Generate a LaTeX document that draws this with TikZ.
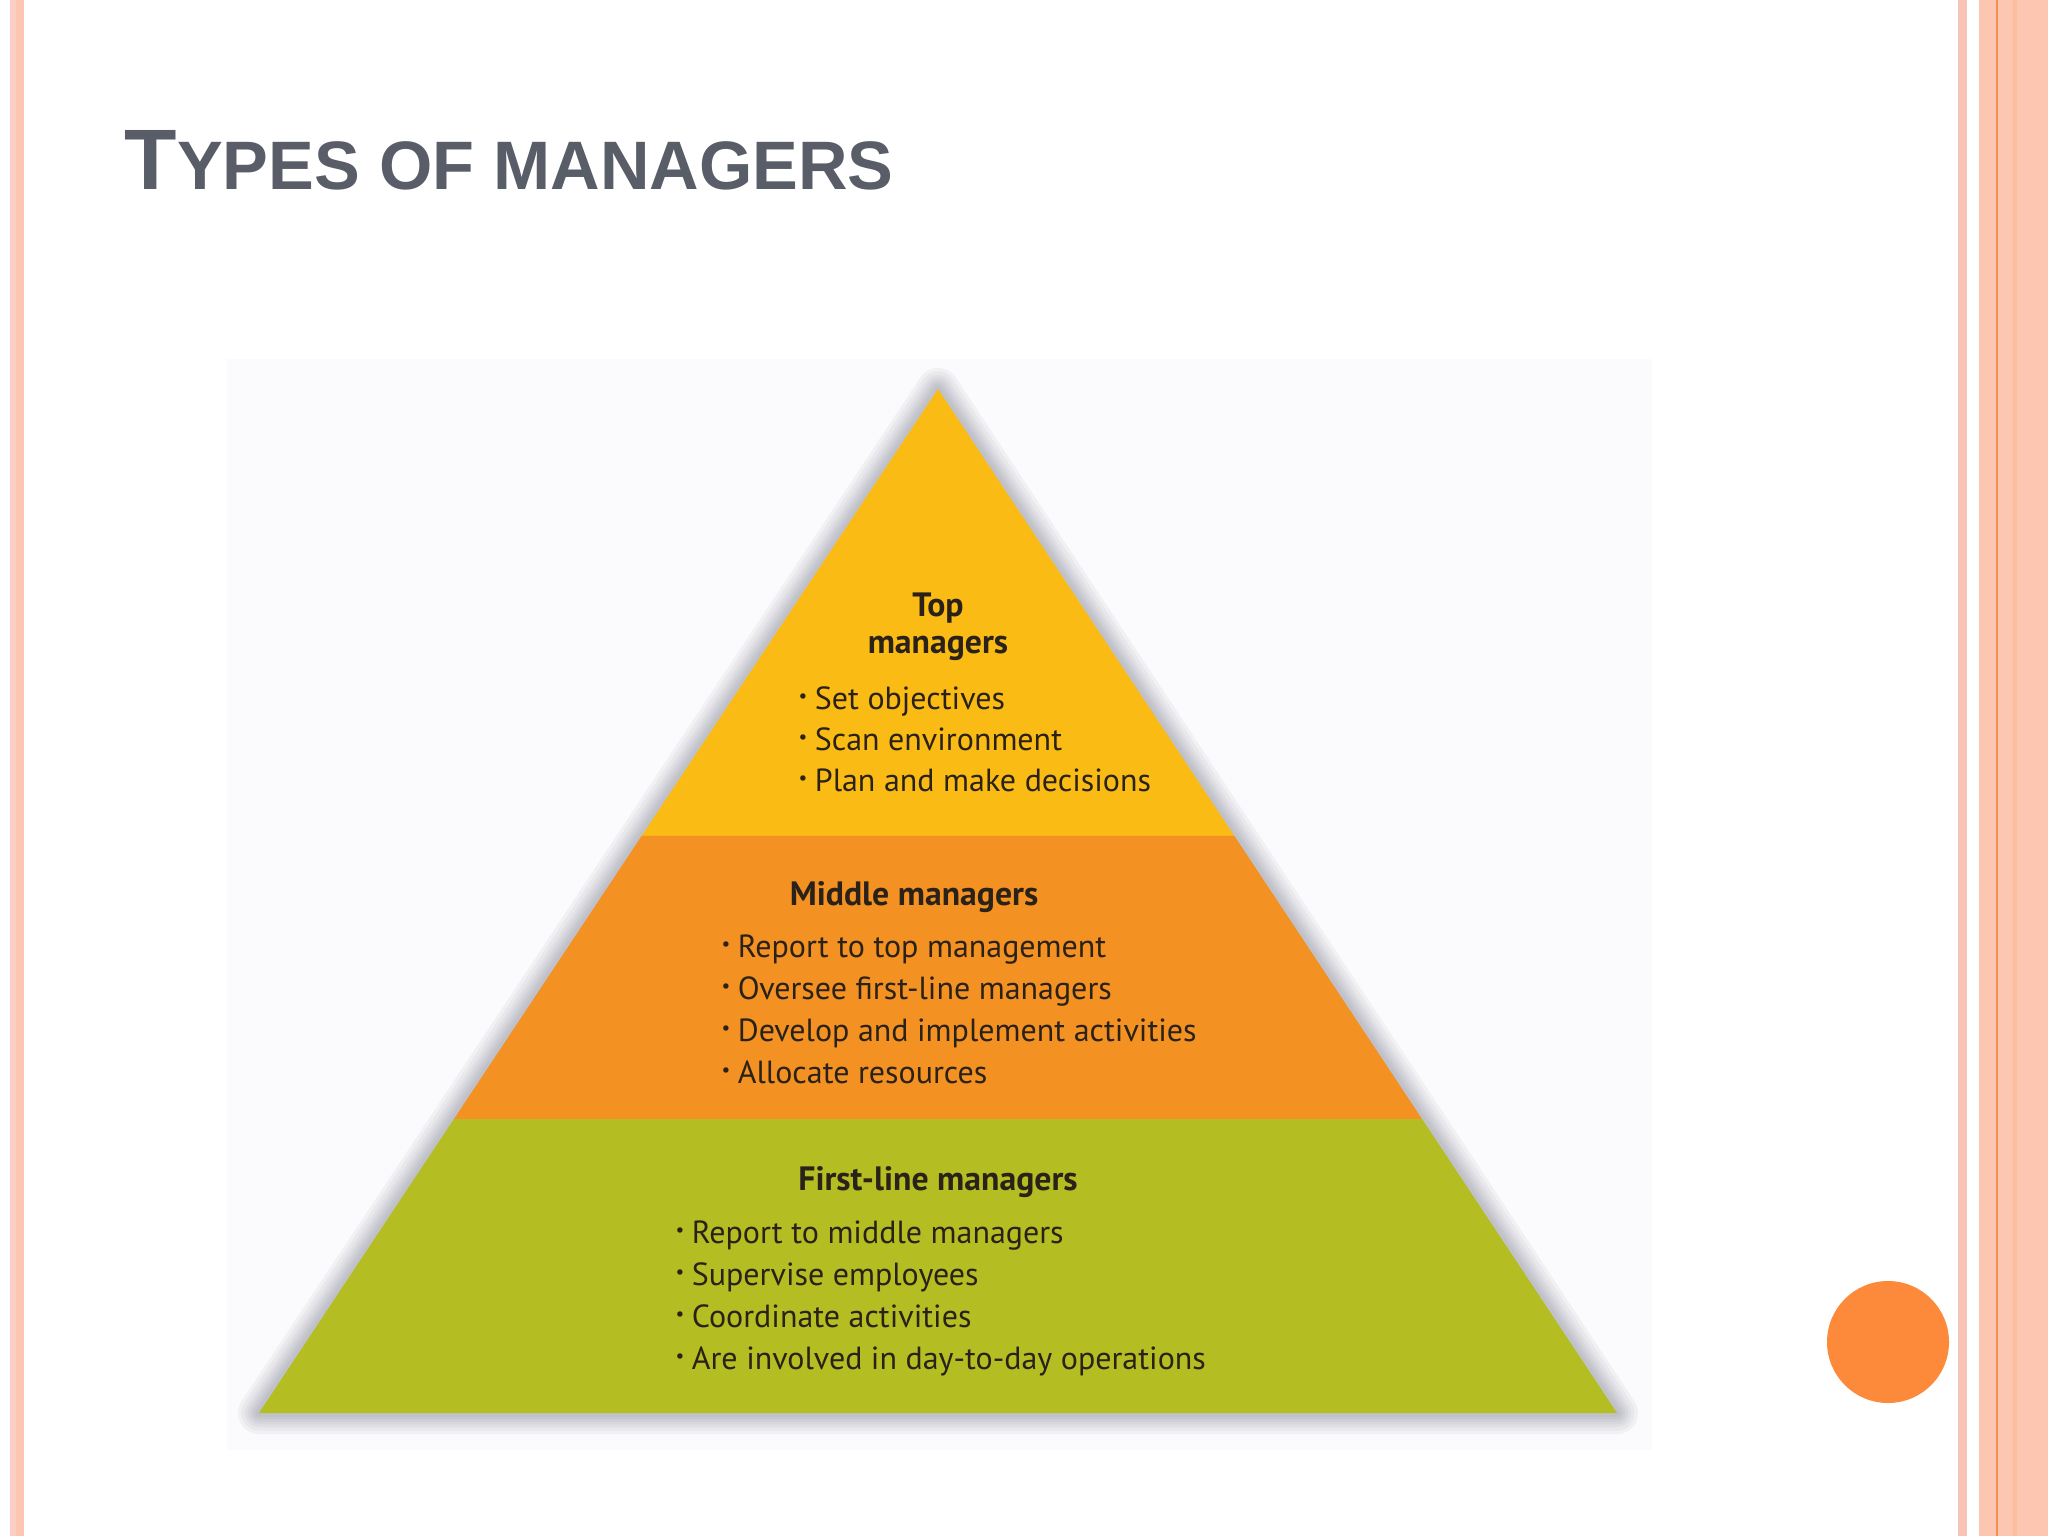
\documentclass[tikz,border=0pt]{standalone}
\usepackage{fontspec}
\setmainfont{PT Sans}
\newfontfamily\titlefont{Liberation Sans}
\usetikzlibrary{calc,positioning}

\definecolor{topyellow}{HTML}{FABB14}
\definecolor{midorange}{HTML}{F39122}
\definecolor{lineolive}{HTML}{B4BD22}
\definecolor{inkbrown}{HTML}{2A2218}
\definecolor{titlegray}{HTML}{585D68}
\definecolor{stripsalmon}{HTML}{FCC6B0}
\definecolor{strippink}{HTML}{FAC3B8}
\definecolor{stripline}{HTML}{F5914F}
\definecolor{dotorange}{HTML}{FC8A3A}
\definecolor{shadowgray}{HTML}{4F5066}
\definecolor{backdrop}{HTML}{FBFBFD}

\newcommand{\pbul}{\makebox[4.6pt][l]{\raisebox{1.9pt}{\fontsize{5.5}{5}\selectfont\textbullet}}}

\tikzset{
  head/.style={font=\bfseries\fontsize{9.6}{12}\selectfont, text=inkbrown, inner sep=0pt, anchor=base},
  item/.style={font=\fontsize{9.1}{12}\selectfont, text=inkbrown, inner sep=0pt, anchor=base west},
}

\begin{document}
\begin{tikzpicture}[x=0.01cm, y=-0.01cm]
    \useasboundingbox (0,0) rectangle (2048,1536);
    \fill[white] (0,0) rectangle (2048,1536);

    % slide borders
    \fill[strippink!80!white] (10,0) rectangle (16,1536);
    \fill[stripsalmon] (16,0) rectangle (24,1536);
    \fill[strippink] (1958,0) rectangle (1967,1536);
    \fill[stripsalmon] (1979,0) rectangle (2048,1536);
    \fill[stripline] (1996,0) rectangle (1998,1536);
    \fill[stripsalmon!90!orange] (2013,0) rectangle (2017,1536);

    % picture backdrop
    \fill[backdrop] (227,359) rectangle (1652,1450);

    \coordinate (apex) at (938,389);
    \coordinate (bl) at (259,1413);
    \coordinate (br) at (1617,1413);
    \coordinate (t1l) at ($(apex)!0.4365!(bl)$);
    \coordinate (t1r) at ($(apex)!0.4365!(br)$);
    \coordinate (t2l) at ($(apex)!0.713!(bl)$);
    \coordinate (t2r) at ($(apex)!0.713!(br)$);

    % soft shadow round the pyramid
    \foreach \w in {12,10,8,6.5,5,3.5,2}
        \draw[shadowgray, opacity=0.055, line width=\w pt, line join=round,
              xshift=0.6pt, yshift=-1.8pt] (apex) -- (bl) -- (br) -- cycle;

    \fill[topyellow] (apex) -- (t1l) -- (t1r) -- cycle;
    \fill[midorange] (t1l) -- (t2l) -- (t2r) -- (t1r) -- cycle;
    \fill[lineolive] (t2l) -- (bl) -- (br) -- (t2r) -- cycle;

    % top managers
    \node[head] (toph) at (938,616) {Top};
    \node[head] (toph2) at (938,653) {managers};
    \foreach \t [count=\i] in {Set objectives, Scan environment, Plan and make decisions}
        \node[item] (top-\i) at (798, {709+41*(\i-1)}) {\pbul\t};

    % middle managers
    \node[head] (midh) at (914,905) {Middle managers};
    \foreach \t [count=\i] in {Report to top management, Oversee first-line managers,
                               Develop and implement activities, Allocate resources}
        \node[item] (mid-\i) at (721, {957+42.2*(\i-1)}) {\pbul\t};

    % first-line managers
    \node[head] (lowh) at (938,1190) {First-line managers};
    \foreach \t [count=\i] in {Report to middle managers, Supervise employees,
                               Coordinate activities, Are involved in day-to-day operations}
        \node[item] (low-\i) at (675, {1243+42.2*(\i-1)}) {\pbul\t};

    % title
    \node[anchor=base west, inner sep=0pt, text=titlegray, font=\titlefont\bfseries] (title)
        at (124,189) {\fontsize{24.4}{28}\selectfont T\fontsize{19.5}{24}\selectfont YPES OF MANAGERS};

    \fill[dotorange] (1888,1342) circle (61);
\end{tikzpicture}
\end{document}
